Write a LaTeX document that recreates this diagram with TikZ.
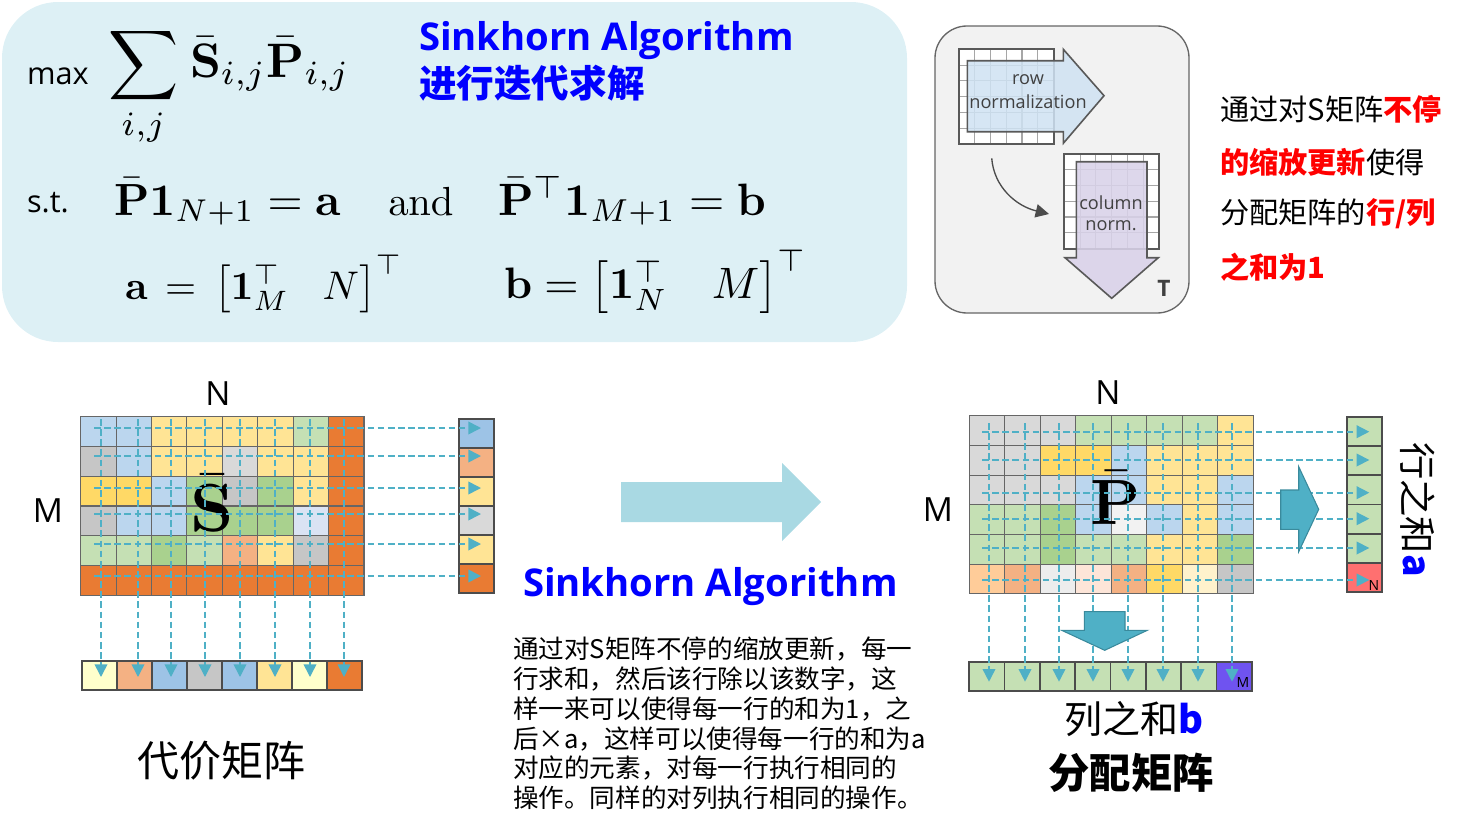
\documentclass[tikz,border=0pt]{standalone}
\usepackage[no-math]{fontspec}
\usepackage{amsmath,amssymb}
\usepackage{graphicx}
\setmainfont{Open Sans}
\newfontfamily\cjk{Noto Sans CJK SC}
\usetikzlibrary{arrows.meta}
\definecolor{cB}{HTML}{BBD6EE}
\definecolor{cY}{HTML}{FFE495}
\definecolor{cG}{HTML}{C5E0B4}
\definecolor{cO}{HTML}{E97B33}
\definecolor{cK}{HTML}{C6C6C6}
\definecolor{cL}{HTML}{D9D9D9}
\definecolor{cD}{HTML}{FFD966}
\definecolor{cM}{HTML}{A9D18E}
\definecolor{cR}{HTML}{F4B183}
\definecolor{cP}{HTML}{DAE3F3}
\definecolor{cW}{HTML}{FFFFCC}
\definecolor{cV}{HTML}{9DC3E6}
\definecolor{cS}{HTML}{F2F2F2}
\definecolor{cA}{HTML}{FFCC99}
\definecolor{cE}{HTML}{EDEDED}
\definecolor{cF}{HTML}{FDE5D8}
\definecolor{cC}{HTML}{FFF2CC}
\definecolor{cT}{HTML}{FF7070}
\definecolor{cU}{HTML}{6F53F0}
\definecolor{flow}{HTML}{4FB0C6}
\definecolor{flowedge}{HTML}{3A8A9C}
\definecolor{panel}{HTML}{DDF0F5}
\definecolor{bigarrow}{HTML}{A9D9E3}
\definecolor{purplearrow}{HTML}{D9D2E9}
\definecolor{bluearrow}{HTML}{CFE2F3}
\definecolor{myblue}{HTML}{0000FF}
\newcommand{\fs}[1]{\fontsize{#1}{#1}\selectfont}
\newcommand{\scmath}[2]{\scalebox{#1}{\fontsize{10}{12}\selectfont $#2$}}
% x0 y0 cellw cellh rows style
\newcommand{\matgrid}[6]{%
  \foreach \rw [count=\i] in {#5} {
    \foreach \colr [count=\j] in \rw {
      \draw[#6, fill=\colr] ({#1+(\j-1)*#3},{#2+(\i-1)*#4}) rectangle ++(#3,#4);
    }
  }
}
\newcommand{\plaingrid}[4]{%
  \foreach \i in {0,...,5} {\foreach \j in {0,...,5} {
    \draw[draw=black!35, fill=white, line width=.8pt] ({#1+\j*#3},{#2+\i*#3}) rectangle ++(#3,#3);
  }}
  \draw[draw=black!65, line width=1.5pt] (#1,#2) rectangle ++({6*#3},{6*#3});
}
\tikzset{
  cellthin/.style={draw=black!60, line width=.8pt},
  cellvec/.style={draw=black!70, line width=1.3pt},
  flowline/.style={draw=flow, line width=1.2pt, dash pattern=on 5pt off 2.6pt,
     -{Triangle[length=9.5pt,width=9.5pt,fill=flow]}},
  txt/.style={inner sep=0pt, outer sep=0pt, text=black},
  math/.style={inner sep=0pt, outer sep=0pt, text=black, anchor=base west},
  bigar/.style={fill=flow, draw=flowedge, line width=.8pt},
}
\begin{document}
\begin{tikzpicture}[x=.75pt,y=-.75pt]
\useasboundingbox (0,0) rectangle (1463,828);
% top panel
\path[fill=panel, rounded corners=42pt] (2,2) rectangle (907,342);
\node[txt,anchor=base west] (max) at (27,84) {\fs{23}max};
\node[txt,anchor=base west] (st) at (27,212) {\fs{23}s.t.};
\node[math] (eqsum) at (108,78) {\scmath{3.65}{\displaystyle\sum_{i,j}}};
\node[math] (eqa) at (190,77) {\scmath{3.63}{\bar{\mathbf S}_{i,j}\bar{\mathbf P}_{i,j}}};
\node[math] (eqb) at (114,215) {\scmath{3.38}{\bar{\mathbf P}\mathbf 1_{N+1}=\mathbf a}};
\node[math] (eqand) at (388,215) {\scmath{3.05}{\mathrm{and}}};
\node[math] (eqc) at (498,215) {\scmath{3.4}{\bar{\mathbf P}^{\top}\mathbf 1_{M+1}=\mathbf b}};
\node[math] (eqd) at (125,299) {\scmath{3.0}{\mathbf a\,=\,\big[\mathbf 1_M^{\top}\;\;\;N\big]^{\top}}};
\node[math] (eqe) at (504,298) {\scmath{3.3}{\mathbf b=\big[\mathbf 1_N^{\top}\;\;\;\,M\big]^{\top}}};
\node[txt,anchor=west,text=myblue] (title1) at (419,41) {\fs{28.7}\bfseries Sinkhorn Algorithm};
\node[txt,anchor=west,text=myblue] (title2) at (419,83) {\fs{28.2}\cjk\bfseries 进行迭代求解};
% normalisation panel
\draw[fill=cS, draw=black!60, line width=1pt, rounded corners=24pt] (935,26) rectangle (1189,313);
\plaingrid{959}{49.3}{15.75}{}
\fill[bluearrow, opacity=.85] (967.3,60.7)--(1063.3,60.7)--(1063.3,49.3)--(1104,95.7)--(1063.3,143.3)--(1063.3,131.7)--(967.3,131.7)--cycle;
\draw[draw=black!65, line width=1.2pt] (967.3,60.7)--(1063.3,60.7)--(1063.3,49.3)--(1104,95.7)--(1063.3,143.3)--(1063.3,131.7)--(967.3,131.7)--cycle;
\node[txt,text=black!75] (rowa) at (1028,80) {\fs{13.6}row};
\node[txt,text=black!75] (rowb) at (1028,102) {\fs{13.6}normalization};
\plaingrid{1064.3}{154}{15.75}{}
\fill[purplearrow, opacity=.88] (1076.3,161.7)--(1147,161.7)--(1147,257.7)--(1158.3,257.7)--(1111.7,298.3)--(1065,257.7)--(1076.3,257.7)--cycle;
\draw[draw=black!65, line width=1.2pt] (1076.3,161.7)--(1147,161.7)--(1147,257.7)--(1158.3,257.7)--(1111.7,298.3)--(1065,257.7)--(1076.3,257.7)--cycle;
\node[txt,text=black!75] (cola) at (1111,203) {\fs{13.6}column};
\node[txt,text=black!75] (colb) at (1111,226) {\fs{13.6}norm.};
\node[txt,text=black!75] (tee) at (1164,288) {\fs{17}\bfseries T};
\coordinate (curvea) at (991.7,158.3);
\coordinate (curveb) at (1049,214);
\draw[draw=black!70, line width=1pt, -{Triangle[length=10pt,width=10pt]}] (curvea) .. controls (994,187) and (1016,206) .. (curveb);
% side note
\node[txt,anchor=west] (na) at (1220,109) {\fs{21.9}\cjk 通过对S矩阵\textcolor{red}{\bfseries 不停}};
\node[txt,anchor=west] (nb) at (1220,162) {\fs{21.9}\cjk \textcolor{red}{\bfseries 的缩放更新}使得};
\node[txt,anchor=west] (nc) at (1220,214) {\fs{21.9}\cjk 分配矩阵的\textcolor{red}{\bfseries 行/列}};
\node[txt,anchor=west] (nd) at (1220,267) {\fs{21.9}\cjk \textcolor{red}{\bfseries 之和为1}};
% left matrix
\matgrid{80.7}{416.7}{35.41}{29.77}{{cB,cB,cY,cY,cY,cY,cG,cO},{cK,cB,cY,cY,cL,cY,cY,cO},{cD,cD,cB,cM,cK,cM,cY,cO},{cK,cB,cB,cM,cM,cM,cP,cO},{cG,cG,cM,cG,cR,cY,cK,cO},{cO,cO,cO,cO,cO,cO,cO,cO}}{cellthin}
\matgrid{458.7}{419}{35.6}{29}{{cV},{cR},{cY},{cL},{cY},{cO}}{cellvec}
\matgrid{81.7}{660.7}{35.08}{29.3}{{cW,cR,cV,cK,cV,cY,cW,cO}}{cellvec}
\node[txt,anchor=base] (sbar) at (212,531) {\scmath{5.1}{\bar{\mathbf S}}};
\node[txt] (nl) at (218,394) {\fs{25}N};
\node[txt] (ml) at (48,511) {\fs{25}M};
\foreach \k/\yy in {1/428,2/456,3/488,4/514,5/544,6/576} {
  \coordinate (hs\k) at (94,\yy); \coordinate (he\k) at (481,\yy);
  \draw[flowline] (hs\k) -- (he\k);
}
\foreach \k/\xx in {1/101,2/138,3/171,4/205,5/240,6/275,7/310,8/344} {
  \coordinate (vs\k) at (\xx,419); \coordinate (ve\k) at (\xx,677);
  \draw[flowline] (vs\k) -- (ve\k);
}
\node[txt] (cost) at (221.5,761) {\fs{31.5}\cjk 代价矩阵};
% centre
\fill[bigarrow] (621,482)--(782,482)--(782,463)--(821,502)--(782,541)--(782,522)--(621,522)--cycle;
\node[txt,anchor=west,text=myblue] (title3) at (523,587) {\fs{28.7}\bfseries Sinkhorn Algorithm};
\node[txt,anchor=north west,align=left,font=\fontsize{19.2}{22.35}\selectfont\cjk] (body) at (513,637) {%
通过对S矩阵不停的缩放更新，每一\\行求和，然后该行除以该数字，这\\样一来可以使得每一行的和为1，之\\后×a，这样可以使得每一行的和为a\\对应的元素，对每一行执行相同的\\操作。同样的对列执行相同的操作。};
% right matrix
\matgrid{969.3}{415.7}{35.5}{29.67}{{cL,cL,cL,cG,cG,cG,cG,cY},{cL,cL,cD,cD,cB,cY,cY,cY},{cL,cL,cL,cB,cB,cY,cY,cB},{cG,cG,cM,cB,cS,cB,cY,cB},{cG,cG,cM,cG,cG,cY,cY,cM},{cA,cR,cE,cF,cR,cD,cC,cK}}{cellthin}
\matgrid{1347}{416.7}{35.3}{29.27}{{cG},{cG},{cG},{cG},{cG},{cT}}{cellvec}
\matgrid{969.3}{661.7}{35.3}{29.3}{{cG,cG,cG,cG,cG,cG,cG,cU}}{cellvec}
\node[txt,anchor=base] (pbar) at (1116,524) {\scmath{4.8}{\bar{\mathbf P}}};
\node[txt] (nr) at (1108,393) {\fs{25}N};
\node[txt] (mr) at (938,510) {\fs{25}M};
\foreach \k/\yy in {1/431.7,2/460,3/492.7,4/518.7,5/548,6/580} {
  \coordinate (ps\k) at (982,\yy); \coordinate (pe\k) at (1369.3,\yy);
  \draw[flowline] (ps\k) -- (pe\k);
}
\foreach \k/\xx in {1/989,2/1025,3/1059,4/1093,5/1128,6/1163,7/1198,8/1232} {
  \coordinate (qs\k) at (\xx,423); \coordinate (qe\k) at (\xx,681.7);
  \draw[flowline] (qs\k) -- (qe\k);
}
\node[txt] (nsmall) at (1374,585) {\fs{10.5}N};
\node[txt] (msmall) at (1243,682) {\fs{10.5}M};
\draw[bigar] (1280.7,490)--(1298.7,490)--(1298.7,466.7)--(1318.7,509.3)--(1298.7,551.7)--(1298.7,529.3)--(1280.7,529.3)--cycle;
\draw[bigar] (1084.3,611.7)--(1125,611.7)--(1125,630.3)--(1147.3,630.3)--(1104.7,650.3)--(1061.7,630.3)--(1084.3,630.3)--cycle;
\node[txt,rotate=-90,anchor=west] (rowsum) at (1418,442) {\fs{28}\cjk 行之和\textcolor{myblue}{\bfseries a}};
\node[txt,anchor=west] (colsum) at (1064,719) {\fs{28.5}\cjk 列之和\textcolor{myblue}{\bfseries b}};
\node[txt] (assign) at (1131,773) {\fs{31}\cjk\bfseries 分配矩阵};
\end{tikzpicture}
\end{document}
